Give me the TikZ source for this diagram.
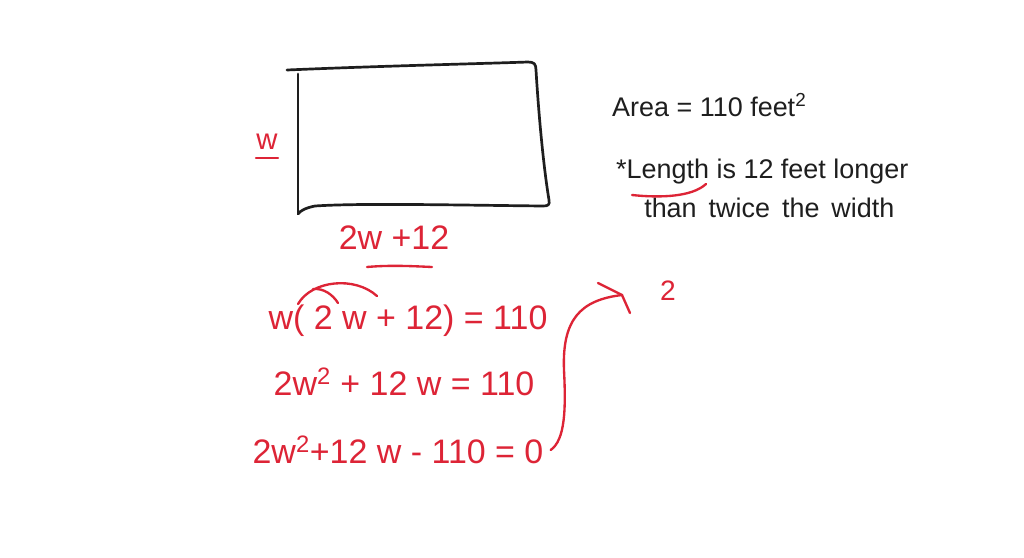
\documentclass[tikz,border=0pt]{standalone}
\usepackage{fontspec}
\setmainfont{Liberation Sans}
\usetikzlibrary{positioning}
\definecolor{marker}{RGB}{221,36,54}
\definecolor{pencil}{RGB}{30,30,30}

\begin{document}
\begin{tikzpicture}[x=0.03cm,y=-0.03cm,
    redtext/.style={text=marker,inner sep=0pt,font=\fontsize{29}{31}\selectfont},
    inktext/.style={text=pencil,inner sep=0pt,font=\fontsize{23}{26}\selectfont},
    redpen/.style={draw=marker,line width=2pt,line cap=round,line join=round},
    inkpen/.style={draw=pencil,line width=2.3pt,line cap=round,line join=round}]
  \useasboundingbox[fill=white] (0,0) rectangle (1024,558);

  % the field
  \draw[inkpen] (287,70) .. controls (380,66) and (470,64) .. (528,62)
    .. controls (534,62) and (536,64) .. (536,70)
    .. controls (539,120) and (544,170) .. (549,200)
    .. controls (550,205) and (548,206) .. (543,206)
    .. controls (450,205) and (360,203) .. (315,206)
    .. controls (305,208) and (300,211) .. (298,214);
  \draw[inkpen] (298,74) -- (298,213);

  % sides
  \node[redtext,font=\fontsize{25}{27}\selectfont] (wside) at (267,142) {w};
  \draw[redpen] (256,158) -- (278,158);
  \node[redtext] (lside) at (394,238) {2w +12};
  \draw[redpen] (367,267) .. controls (390,265) and (410,266) .. (432,267);

  % given facts
  \node[inktext,anchor=west] (area) at (612,105) {Area = 110 feet\textsuperscript{2}};
  \node[inktext,anchor=west] (rule) at (616,172) {*Length is 12 feet longer};
  \node[inktext] (rule2) [below=11pt of rule,xshift=6pt] {than\, twice\, the\, width};
  \draw[redpen] (632,195) .. controls (660,198) and (692,197) .. (706,184);

  % equations
  \node[redtext] (eq1) at (408,321) {w( 2 w + 12) = 110};
  \node[redtext] (eq2) at (404,382) {2w\textsuperscript{2} + 12 w = 110};
  \node[redtext] (eq3) at (398,450) {2w\textsuperscript{2}+12 w - 110 = 0};
  \draw[redpen] (298,304) .. controls (312,280) and (355,276) .. (377,296);
  \draw[redpen] (313,289) .. controls (324,288) and (333,295) .. (338,303);

  \node[redtext,font=\fontsize{24}{26}\selectfont] (two) at (668,291) {2};
  \coordinate (tip) at (622,295);
  \draw[redpen] ([xshift=6pt]eq3.east) .. controls (565,440) and (566,410) .. (564,370)
    .. controls (562,320) and (580,300) .. (tip);
  \draw[redpen] (598,283) -- (tip) -- (630,313);
\end{tikzpicture}
\end{document}
